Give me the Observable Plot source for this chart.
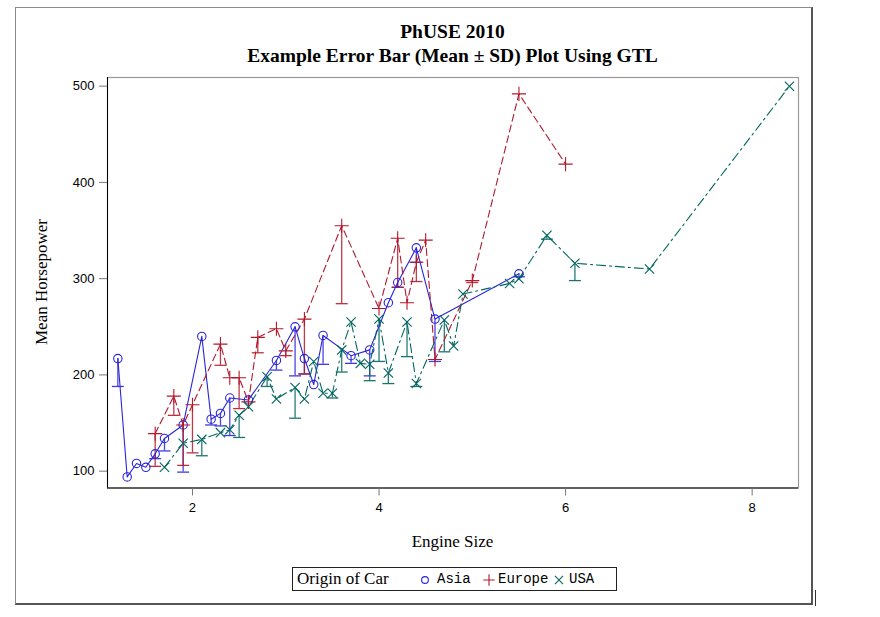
<!DOCTYPE html>
<html><head><meta charset="utf-8">
<script src="https://cdn.jsdelivr.net/npm/d3@7"></script>
<script src="https://cdn.jsdelivr.net/npm/@observablehq/plot@0.6"></script>
<style>
body{margin:0;background:#fff;}
#wrap{position:relative;width:880px;height:617px;overflow:hidden;background:#fff;}
#wrap svg.plot{position:absolute;left:0;top:0;}
.ttl{position:absolute;left:0;width:905px;text-align:center;font-family:"Liberation Serif",serif;font-weight:bold;font-size:19.5px;color:#000;white-space:nowrap;}
.lab{position:absolute;font-family:"Liberation Serif",serif;font-size:17px;color:#000;white-space:nowrap;}
#border{position:absolute;left:15px;top:7px;width:795px;height:595px;border:1px solid #8a8a8a;border-right:2px solid #555;border-bottom:2px solid #555;}
#legend{position:absolute;left:292px;top:567px;width:323px;height:22px;border:1px solid #222;font-family:"Liberation Serif",serif;}
#legend span{position:absolute;top:2px;white-space:nowrap;}
#legend svg{position:absolute;top:6px;}
</style></head><body><div id="wrap"><div id="border"></div></div>
<script>
// ---- data ----
const xTicks = [2, 4, 6, 8];
const yTicks = [100, 200, 300, 400, 500];

const asiaX     = [1.2, 1.3, 1.4, 1.5, 1.6, 1.7, 1.9, 2.1, 2.2, 2.3, 2.4, 2.6, 2.9, 3.1, 3.2, 3.3, 3.4, 3.7, 3.9, 4.1, 4.2, 4.4, 4.6, 5.5];
const asiaMean  = [217, 94, 108, 104, 118, 134, 148, 240, 154, 160, 176, 174, 215, 250, 217, 190, 241, 220, 226, 275, 296, 332, 258, 305];
const asiaLower = [188, null, null, null, 113, 121, 99, null, 148, 147, 137, null, 205, 199, 201, null, 211, 212, 199, null, 291, 317, 214, 302];

const euroX     = [1.6, 1.8, 1.9, 2.0, 2.3, 2.4, 2.5, 2.6, 2.7, 2.9, 3.0, 3.2, 3.6, 4.0, 4.2, 4.3, 4.4, 4.5, 4.6, 5.0, 5.5, 6.0];
const euroMean  = [139, 178, 148, 169, 232, 197, 197, 172, 239, 248, 225, 258, 355, 269, 342, 275, 317, 340, 216, 298, 492, 419];
const euroLower = [105, 158, 106, 119, 210, null, 165, null, 223, null, 220, 201, 274, null, 291, null, 297, null, null, 296, null, null];

const usaX      = [1.7, 1.9, 2.1, 2.3, 2.4, 2.5, 2.6, 2.8, 2.9, 3.1, 3.2, 3.3, 3.4, 3.5, 3.6, 3.7, 3.8, 3.9, 4.0, 4.1, 4.3, 4.4, 4.7, 4.8, 4.9, 5.4, 5.5, 5.8, 6.1, 6.9, 8.4];
const usaMean   = [104, 129, 133, 140, 143, 158, 167, 198, 175, 187, 175, 214, 181, 181, 226, 255, 212, 211, 258, 202, 255, 191, 257, 230, 284, 295, 300, 345, 316, 310, 500];
const usaLower  = [null, null, 116, null, null, 135, null, 188, null, 155, null, null, null, 176, 203, null, null, 194, 214, 191, 219, 188, 224, null, null, null, null, 341, 298, null, null];

const originNames = ["Asia", "Europe", "USA"];
const colors = {Asia: "#2A25D9", Europe: "#B2182B", USA: "#01665E"};

// ---- build tables ----
function rows(name, xs, means, lowers) {
  return xs.map((x, i) => ({origin: name, x, mean: means[i], lower: lowers[i]}));
}
const asia = rows("Asia", asiaX, asiaMean, asiaLower);
const euro = rows("Europe", euroX, euroMean, euroLower);
const usa  = rows("USA", usaX, usaMean, usaLower);
const series = {Asia: asia, Europe: euro, USA: usa};

const capSymbol = {draw(ctx, size) { const w = Math.sqrt(size / Math.PI); ctx.moveTo(-w, 0); ctx.lineTo(w, 0); }};
const symbols = {Asia: "circle", Europe: "plus", USA: "times"};
const radii = {Asia: 4.2, Europe: 4.6, USA: 4.3};
const dashes = {Asia: null, Europe: "7,4", USA: "9,4,2,4"};

const xDomain = [1.089, 8.497];
const yDomain = [82.5, 509];

const marks = [
  Plot.frame({stroke: "#999", strokeWidth: 1.2}),
  Plot.ruleX([xDomain[0]], {stroke: "#000"}),
  Plot.ruleY([yDomain[0]], {stroke: "#000"}),
  Plot.axisX({ticks: xTicks, tickSize: 8, tickPadding: 7, label: null, stroke: "#777", fill: "#000", fontSize: 13, fontFamily: "Liberation Sans, sans-serif"}),
  Plot.axisY({ticks: yTicks, tickSize: 8, tickPadding: 5, label: null, stroke: "#777", fill: "#000", fontSize: 13, fontFamily: "Liberation Sans, sans-serif"})
];
for (const name of originNames) {
  const d = series[name];
  const bars = d.filter(r => r.lower != null);
  marks.push(Plot.ruleX(bars, {x: "x", y1: "lower", y2: "mean", stroke: colors[name], strokeWidth: 1.3, strokeOpacity: 0.85}));
  marks.push(Plot.dot(bars, {x: "x", y: "lower", symbol: capSymbol, r: 6, stroke: colors[name], fill: "none", strokeWidth: 1.3, strokeOpacity: 0.9}));
}
for (const name of originNames) {
  marks.push(Plot.line(series[name], {x: "x", y: "mean", stroke: colors[name], strokeWidth: 1.1, strokeDasharray: dashes[name]}));
}
for (const name of originNames) {
  marks.push(Plot.dot(series[name], {x: "x", y: "mean", symbol: symbols[name], r: radii[name], stroke: colors[name], fill: "none", strokeWidth: 1.1}));
}

const chart = Plot.plot({
  width: 880, height: 617,
  marginLeft: 107, marginRight: 82, marginTop: 77, marginBottom: 129.5,
  x: {domain: xDomain, axis: null},
  y: {domain: yDomain, axis: null},
  style: {background: "transparent", overflow: "visible"},
  marks
});
chart.classList.add("plot");
const wrap = document.getElementById("wrap");
wrap.appendChild(chart);

function addDiv(cls, text, css) {
  const el = document.createElement("div");
  el.className = cls; el.textContent = text;
  Object.assign(el.style, css);
  wrap.appendChild(el);
  return el;
}
addDiv("ttl", "PhUSE 2010", {top: "21px"});
addDiv("ttl", "Example Error Bar (Mean \u00b1 SD) Plot Using GTL", {top: "45px"});
addDiv("lab", "Engine Size", {left: "0px", width: "905px", textAlign: "center", top: "532px"});
addDiv("lab", "Mean Horsepower", {left: "42px", top: "282px", transform: "translate(-50%,-50%) rotate(-90deg)"});

// small artifact line at right bottom
addDiv("", "", {position: "absolute", left: "815px", top: "590px", width: "1px", height: "16px", background: "#333"});

// legend
const leg = document.createElement("div");
leg.id = "legend";
wrap.appendChild(leg);
function legSpan(text, left, css) {
  const s = document.createElement("span");
  s.textContent = text; s.style.left = left + "px";
  Object.assign(s.style, css || {});
  leg.appendChild(s);
}
legSpan("Origin of Car", 4, {fontSize: "17px", top: "1px"});
const legendItems = [
  {name: "Asia", icon: 132, text: 144},
  {name: "Europe", icon: 196, text: 205},
  {name: "USA", icon: 266, text: 276}
];
for (const it of legendItems) {
  const ns = "http://www.w3.org/2000/svg";
  const svg = document.createElementNS(ns, "svg");
  svg.setAttribute("width", 12); svg.setAttribute("height", 12);
  svg.style.left = (it.icon - 6) + "px";
  const p = document.createElementNS(ns, "path");
  const sym = {Asia: d3.symbolCircle, Europe: d3.symbolPlus, USA: d3.symbolTimes}[it.name];
  p.setAttribute("d", d3.symbol(sym, it.name === "Asia" ? 36 : 44)());
  p.setAttribute("transform", "translate(6,6)");
  p.setAttribute("fill", "none");
  p.setAttribute("stroke", colors[it.name]);
  p.setAttribute("stroke-width", "1.1");
  svg.appendChild(p);
  leg.appendChild(svg);
  legSpan(it.name, it.text, {fontSize: "14px", fontFamily: "Liberation Mono, monospace", top: "3px"});
}
</script></body></html>
